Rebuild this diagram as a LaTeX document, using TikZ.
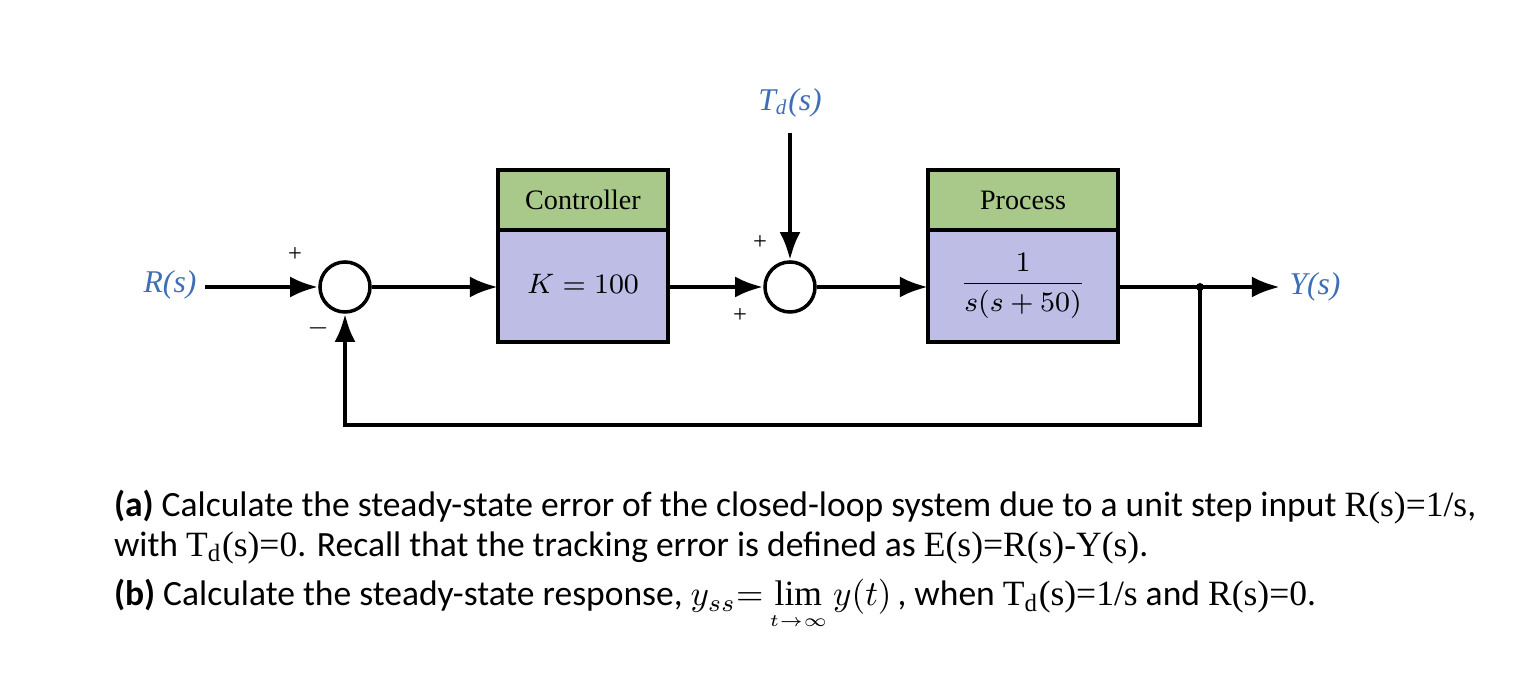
\documentclass[tikz,border=0pt]{standalone}
\usepackage{amsmath}
\usepackage{fontspec}
\setmainfont{Liberation Serif}
\newfontfamily\qfont{Carlito}
\usetikzlibrary{arrows.meta}
\definecolor{hdr}{HTML}{A9C98A}
\definecolor{bod}{HTML}{BDBDE6}
\definecolor{lbl}{HTML}{3E6FB5}
\begin{document}
\begin{tikzpicture}[x=0.01cm,y=-0.01cm,
  line width=1.3pt,
  arr/.style={-{Latex[length=8pt,width=6pt]}},
  sumc/.style={circle,draw,fill=white,minimum size=0.5cm,inner sep=0pt,line width=1pt},
  blbl/.style={text=lbl,font=\fontsize{9}{10}\selectfont\itshape},
  sgn/.style={font=\fontsize{7}{8}\selectfont},
  q/.style={anchor=west,font=\fontsize{10.1}{12}\selectfont\qfont}]
\useasboundingbox (0,0) rectangle (1536,698);
% boxes
\fill[hdr] (498,170) rectangle (668,230);
\fill[bod] (498,230) rectangle (668,342);
\draw[line width=1pt] (498,170) rectangle (668,342) (498,230)--(668,230);
\fill[hdr] (928,170) rectangle (1118,230);
\fill[bod] (928,230) rectangle (1118,342);
\draw[line width=1pt] (928,170) rectangle (1118,342) (928,230)--(1118,230);
\node[font=\fontsize{8}{9}\selectfont] (cl) at (583,200) {Controller};
\node[font=\fontsize{8}{9}\selectfont] (cb) at (583,284) {$K = 100$};
\node[font=\fontsize{8}{9}\selectfont] (pl) at (1023,200) {Process};
\node[font=\fontsize{8}{9}\selectfont] (pb) at (1023,286) {$\dfrac{1}{s(s+50)}$};
\coordinate (cin) at (498,287); \coordinate (cout) at (668,287);
\coordinate (pin) at (928,287); \coordinate (pout) at (1118,287);
% sums
\node[sumc] (s1) at (345,287) {};
\node[sumc] (s2) at (790,287) {};
\node[blbl] (R) at (170,285) {R(s)};
\node[blbl] (Y) at (1315,287) {Y(s)};
\node[blbl] (T) at (790,103) {T\textsubscript{d}(s)};
\coordinate (Rs) at (205,287);
\coordinate (Ts) at (790,133);
\coordinate (j) at (1200,287);
\coordinate (ye) at (1280,287);
\coordinate (fb1) at (1200,425);
\coordinate (fb2) at (345,425);
\draw[arr] (Rs) -- (s1);
\draw[arr] (s1) -- (cin);
\draw[arr] (cout) -- (s2);
\draw[arr] (s2) -- (pin);
\draw[arr] (Ts) -- (s2);
\draw[arr] (pout) -- (ye);
\fill (j) circle (4);
\draw[arr] (j) -- (fb1) -- (fb2) -- (s1);
\node[sgn] at (295,255) {+};
\node[sgn] at (318,328) {$-$};
\node[sgn] at (760,243) {+};
\node[sgn] at (740,316) {+};
% text
\node[q] (qa) at (100,507) {\textbf{(a)} Calculate the steady-state error of the closed-loop system due to a unit step input {\rmfamily R(s)=1/s},};
\node[q] (qa2) at (100,548) {with {\rmfamily T\textsubscript{d}(s)=0}. Recall that the tracking error is defined as {\rmfamily E(s)=R(s)-Y(s)}.};
\node[q] (qb) at (100,605) {\textbf{(b)} Calculate the steady-state response, $y_{ss}{=}\lim\limits_{\scriptscriptstyle t\to\infty} y(t)$\,, when {\rmfamily T\textsubscript{d}(s)=1/s} and {\rmfamily R(s)=0}.};
\end{tikzpicture}
\end{document}
